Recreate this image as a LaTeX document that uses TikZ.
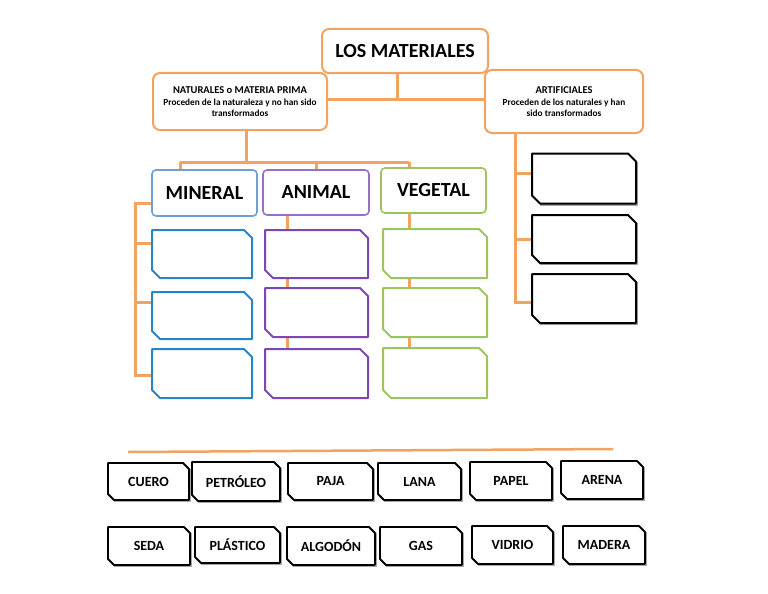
\documentclass[tikz,border=0pt]{standalone}
\usepackage{fontspec}
\setmainfont{Carlito}
\definecolor{org}{RGB}{241,163,98}
\definecolor{minhead}{RGB}{110,160,212}
\definecolor{minsub}{RGB}{40,132,200}
\definecolor{anihead}{RGB}{150,112,200}
\definecolor{anisub}{RGB}{122,72,182}
\definecolor{veg}{RGB}{158,196,96}
\pgfdeclarelayer{bg}
\pgfsetlayers{bg,main}
\newcommand\snipoutline[4]{%
  \draw[draw=#2, line width=#4, line join=round]
    (#1.north west) -- ([xshift=-#3]#1.north east) -- ([yshift=-#3]#1.north east)
    -- (#1.south east) -- ([xshift=#3]#1.south west) -- ([yshift=#3]#1.south west) -- cycle;}
\newcommand\snipshadow[2]{%
  \draw[draw=black!35, line width=1.6pt, line join=round]
    ([xshift=1.5pt,yshift=-#2]#1.north east) -- ([xshift=1.5pt,yshift=-1.5pt]#1.south east)
    -- ([xshift=#2,yshift=-1.5pt]#1.south west);}
\tikzset{
  topbox/.style={draw=org, line width=2pt, rounded corners=7pt, fill=white, align=center, inner sep=0pt},
  headbox/.style={draw=#1, line width=1.6pt, rounded corners=4pt, fill=white, inner sep=0pt,
    font=\fontsize{20}{24}\selectfont\bfseries},
  subbox/.style={rectangle, draw=none, inner sep=0pt, outer sep=0pt},
  wordbox/.style={rectangle, draw=none, inner sep=0pt, outer sep=0pt,
    font=\fontsize{14}{16}\selectfont\bfseries},
  conn/.style={draw=org, line width=3pt}
}
\begin{document}
\begin{tikzpicture}[x=1pt,y=-1pt]
\useasboundingbox (0,0) rectangle (768,594);
% top level
\node[topbox, minimum width=166pt, minimum height=44pt, font=\fontsize{20}{24}\selectfont\bfseries] (top) at (405,51) {LOS MATERIALES};
\node[topbox, minimum width=174pt, minimum height=57pt] (nat) at (240,101.5)
  {{\fontsize{10.5}{14}\selectfont\bfseries NATURALES o MATERIA PRIMA}\\[0pt]
   {\fontsize{9.3}{12.5}\selectfont\bfseries Proceden de la naturaleza y no han sido}\\[-1pt]
   {\fontsize{9.3}{12.5}\selectfont\bfseries transformados}};
\node[topbox, minimum width=158pt, minimum height=63pt] (art) at (564,101.5)
  {{\fontsize{10.5}{14}\selectfont\bfseries ARTIFICIALES}\\[0pt]
   {\fontsize{9.3}{12.5}\selectfont\bfseries Proceden de los naturales y han}\\[-1pt]
   {\fontsize{9.3}{12.5}\selectfont\bfseries sido transformados}};
% headers
\node[headbox=minhead, minimum width=105pt, minimum height=46pt] (min) at (204.5,193) {MINERAL};
\node[headbox=anihead, minimum width=106pt, minimum height=45pt] (ani) at (316,192.5) {ANIMAL};
\node[headbox=veg, minimum width=105pt, minimum height=45pt] (veg) at (433.5,190.5) {VEGETAL};
% mineral subs
\node[subbox, minimum width=100pt, minimum height=48pt] (m1) at (202,254) {};
\node[subbox, minimum width=100pt, minimum height=47pt] (m2) at (202,315.5) {};
\node[subbox, minimum width=100pt, minimum height=49pt] (m3) at (202,373.5) {};
% animal subs
\node[subbox, minimum width=103pt, minimum height=48pt] (a1) at (316.5,254) {};
\node[subbox, minimum width=103pt, minimum height=49pt] (a2) at (316.5,312.5) {};
\node[subbox, minimum width=103pt, minimum height=49pt] (a3) at (316.5,373.5) {};
% vegetal subs
\node[subbox, minimum width=104pt, minimum height=49pt] (v1) at (435,253.5) {};
\node[subbox, minimum width=104pt, minimum height=49pt] (v2) at (435,312.5) {};
\node[subbox, minimum width=104pt, minimum height=50pt] (v3) at (435,373) {};
% artificial subs
\node[subbox, minimum width=104pt, minimum height=50pt] (r1) at (584,178.5) {};
\node[subbox, minimum width=104pt, minimum height=48pt] (r2) at (584,239) {};
\node[subbox, minimum width=104pt, minimum height=49pt] (r3) at (584,298.5) {};
\foreach \n in {m1,m2,m3}{\snipoutline{\n}{minsub}{8pt}{2pt}}
\foreach \n in {a1,a2,a3}{\snipoutline{\n}{anisub}{8pt}{2pt}}
\foreach \n in {v1,v2,v3}{\snipoutline{\n}{veg}{8pt}{2pt}}
\foreach \n in {r1,r2,r3}{\snipshadow{\n}{8pt}\snipoutline{\n}{black}{8pt}{2pt}}
% word boxes
\node[wordbox, minimum width=81pt, minimum height=37pt] (w1) at (148.5,481.5) {CUERO};
\node[wordbox, minimum width=88pt, minimum height=39pt] (w2) at (236,481.5) {PETRÓLEO};
\node[wordbox, minimum width=85pt, minimum height=37pt] (w3) at (330.5,481.5) {PAJA};
\node[wordbox, minimum width=83pt, minimum height=37pt] (w4) at (419.5,481.5) {LANA};
\node[wordbox, minimum width=82pt, minimum height=38pt] (w5) at (511,481) {PAPEL};
\node[wordbox, minimum width=82pt, minimum height=38pt] (w6) at (602,480) {ARENA};
\node[wordbox, minimum width=82pt, minimum height=38pt] (w7) at (149,546) {SEDA};
\node[wordbox, minimum width=85pt, minimum height=36pt] (w8) at (237.5,545) {PLÁSTICO};
\node[wordbox, minimum width=88pt, minimum height=38pt] (w9) at (331,546) {ALGODÓN};
\node[wordbox, minimum width=82pt, minimum height=38pt] (w10) at (421,546) {GAS};
\node[wordbox, minimum width=81pt, minimum height=38pt] (w11) at (512.5,545) {VIDRIO};
\node[wordbox, minimum width=82pt, minimum height=38pt] (w12) at (604,545) {MADERA};
\foreach \n in {w1,w2,w3,w4,w5,w6,w7,w8,w9,w10,w11,w12}{\snipshadow{\n}{6pt}\snipoutline{\n}{black}{6pt}{1.8pt}}
% coordinates
\coordinate (tj) at (397,99);
\coordinate (nj) at (246,162);
\coordinate (hl) at (180,162);
\coordinate (hr) at (409,162);
\coordinate (mt) at (135,203);
\coordinate (mb1) at (135,243);
\coordinate (mb2) at (135,302);
\coordinate (mb3) at (135,375);
\coordinate (ax) at (287,200);
\coordinate (at) at (515,133);
\coordinate (ab1) at (515,173);
\coordinate (ab2) at (515,239);
\coordinate (ab3) at (515,302);
\coordinate (la) at (128,452);
\coordinate (lb) at (613,449);
\begin{pgfonlayer}{bg}
\draw[conn] (tj |- top.south) -- (tj);
\draw[conn] (nat.east |- tj) -- (art.west |- tj);
\draw[conn] (nj |- nat.south) -- (nj);
\draw[conn] (hl) -- (hr);
\draw[conn] (hl) -- (hl |- min.north);
\draw[conn] (ani.north |- hl) -- (ani.north);
\draw[conn] (hr) -- (hr |- veg.north);
% mineral
\draw[conn] (min.west |- mt) -- (mt) -- (mb3) -- (mb3 -| m3.west);
\draw[conn] (mb1) -- (mb1 -| m1.west);
\draw[conn] (mb2) -- (mb2 -| m2.west);
% animal
\draw[conn] (ax |- ani.south) -- (ax |- a1.north);
\draw[conn] (ax |- a1.south) -- (ax |- a2.north);
\draw[conn] (ax |- a2.south) -- (ax |- a3.north);
% vegetal
\draw[conn] (hr |- veg.south) -- (hr |- v1.north);
\draw[conn] (hr |- v1.south) -- (hr |- v2.north);
\draw[conn] (hr |- v2.south) -- (hr |- v3.north);
% artificial
\draw[conn] (at |- art.south) -- (ab3) -- (ab3 -| r3.west);
\draw[conn] (ab1) -- (ab1 -| r1.west);
\draw[conn] (ab2) -- (ab2 -| r2.west);
\end{pgfonlayer}
\draw[conn, line width=2.5pt] (la) -- (lb);
\end{tikzpicture}
\end{document}
